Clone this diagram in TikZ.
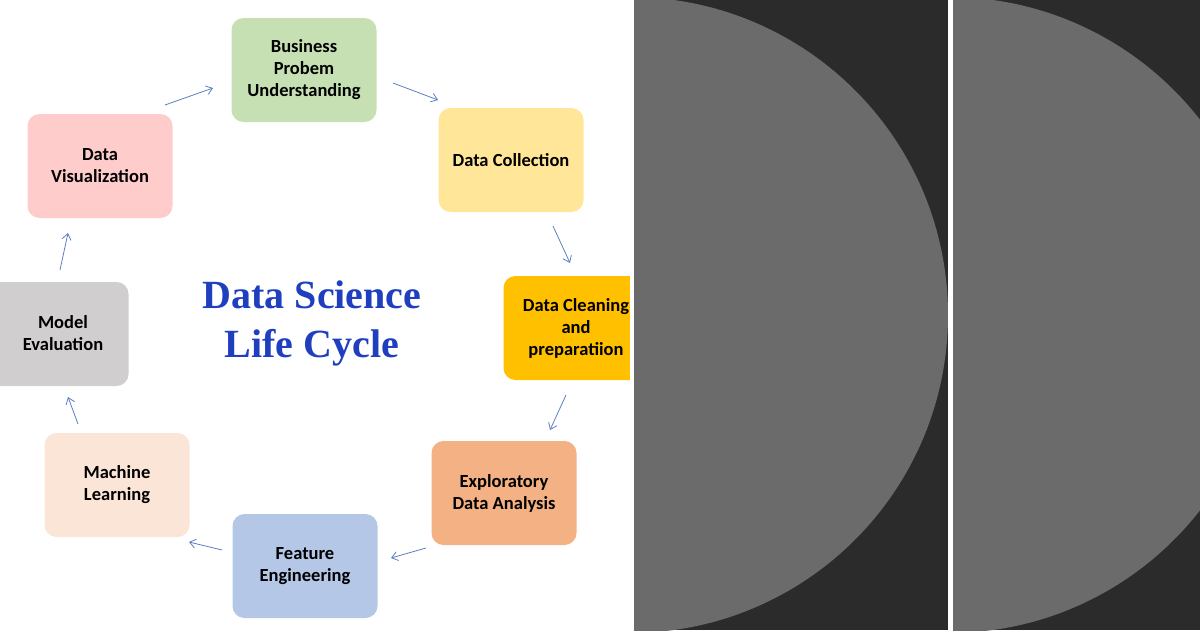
\documentclass[tikz,border=0pt]{standalone}
\usepackage{fontspec}
\setmainfont{Carlito}
\newfontfamily\titlefont{Liberation Serif}
\usetikzlibrary{arrows.meta}
\definecolor{cgreen}{HTML}{C6E0B4}
\definecolor{cyellow}{HTML}{FFE699}
\definecolor{cgold}{HTML}{FFC000}
\definecolor{corange}{HTML}{F4B183}
\definecolor{cblue}{HTML}{B4C7E7}
\definecolor{cpeach}{HTML}{FBE5D6}
\definecolor{cgray}{HTML}{D0CECE}
\definecolor{cpink}{HTML}{FFCCCC}
\definecolor{arr}{HTML}{5B7FC0}
\definecolor{ttl}{HTML}{1F3FBF}
\begin{document}
\begin{tikzpicture}[x=1pt,y=-1pt,
  stage/.style={rounded corners=12pt,minimum width=145pt,minimum height=104pt,align=center,font=\fontsize{18.5}{22}\selectfont\bfseries,inner sep=0pt},
  stagetext/.style={font=\fontsize{18.5}{22}\selectfont\bfseries,align=center},
  conn/.style={draw=arr,line width=0.8pt,-{Straight Barb[length=6pt,width=9pt]}}]
\useasboundingbox (0,0) rectangle (1200,630);
\begin{scope}
\clip (0,0) rectangle (630,630);
\node[stage,fill=cgreen] (bus) at (304,70) {Business\\Probem\\Understanding};
\node[stage,fill=cyellow] (col) at (511,160) {Data Collection};
\node[stage,fill=cgold] (cln) at (576,328) {};
\node[stagetext] (clnt) at (576,328) {Data Cleaning\\and\\preparatiion};
\node[stage,fill=corange] (eda) at (504,493) {Exploratory\\Data Analysis};
\node[stage,fill=cblue] (fea) at (305,566) {Feature\\Engineering};
\node[stage,fill=cpeach] (ml) at (117,485) {Machine\\Learning};
\node[stage,fill=cgray] (mod) at (56,334) {};
\node[stagetext] (modt) at (63,333) {Model\\Evaluation};
\node[stage,fill=cpink] (viz) at (100,166) {Data\\Visualization};
\end{scope}
\node[font=\titlefont\fontsize{40}{49}\selectfont\bfseries,text=ttl,align=center] (title) at (312,323) {Data Science\\Life Cycle};
\coordinate (a1) at (165,105); \coordinate (b1) at (213,88);
\coordinate (a2) at (393,83); \coordinate (b2) at (438,100);
\coordinate (a3) at (553,226); \coordinate (b3) at (570,263);
\coordinate (a4) at (566,395); \coordinate (b4) at (550,430);
\coordinate (a5) at (426,548); \coordinate (b5) at (391,558);
\coordinate (a6) at (222,550); \coordinate (b6) at (189,542);
\coordinate (a7) at (78,424); \coordinate (b7) at (68,397);
\coordinate (a8) at (60,270); \coordinate (b8) at (68,233);
\foreach \i in {1,...,8} \draw[conn] (a\i) -- (b\i);
\fill[white] (630,0) rectangle (634,630);
\fill[black!83] (634,0) rectangle (1200,630);
\begin{scope}
\clip (634,0) rectangle (948,630);
\fill[black!58] (630,315) circle (318);
\end{scope}
\fill[white] (948,0) rectangle (953,630);
\begin{scope}
\clip (953,0) rectangle (1200,630);
\fill[black!58] (949,315) circle (318);
\end{scope}
\end{tikzpicture}
\end{document}
